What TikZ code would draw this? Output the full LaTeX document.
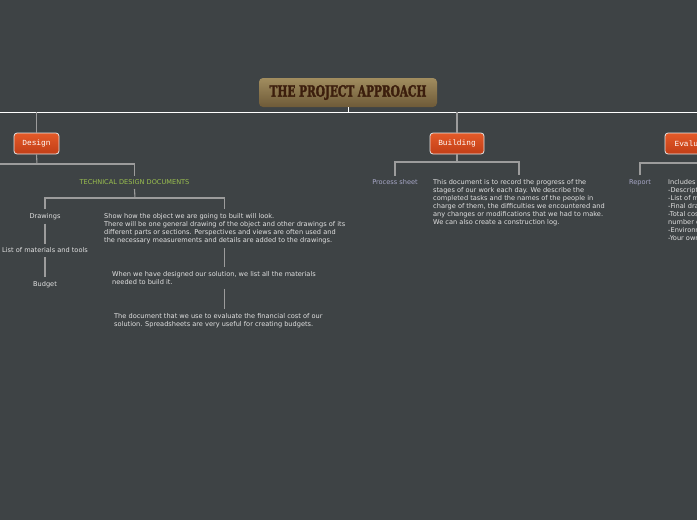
\documentclass[tikz,border=0pt]{standalone}
\usepackage{fontspec}
\setmainfont{DejaVu Sans}
\newfontfamily\monofont{Liberation Mono}
\newfontfamily\titlefont{DejaVu Serif Bold}[FakeStretch=0.68, FakeBold=2]
\definecolor{bg}{HTML}{3E4345}
\definecolor{linec}{HTML}{9C9C9C}
\definecolor{txt}{HTML}{E2E2E2}
\definecolor{green}{HTML}{9BC04F}
\definecolor{lav}{HTML}{A8A8C8}
\definecolor{boxtop}{HTML}{E45A28}
\definecolor{boxbot}{HTML}{C23E17}
\definecolor{boxborder}{HTML}{E6E6E6}
\definecolor{titletop}{HTML}{A18D5F}
\definecolor{titlebot}{HTML}{6E5A38}
\definecolor{titletext}{HTML}{3C1E0D}
\begin{document}
\begin{tikzpicture}[x=1pt,y=-1pt,
  lbl/.style={inner xsep=0pt, inner ysep=4pt, font=\fontsize{6.6}{8}\selectfont, text=txt},
  desc/.style={lbl, align=left, anchor=north west},
  branch/.style={draw=boxborder, line width=0.8pt, rounded corners=3pt,
    top color=boxtop, bottom color=boxbot, text=white,
    font=\monofont\fontsize{7.8}{9}\selectfont,
    minimum height=21pt, inner xsep=0pt},
  titlebox/.style={rounded corners=4pt, top color=titletop, bottom color=titlebot,
    text=titletext, font=\titlefont\fontsize{15.5}{17}\selectfont,
    minimum width=178pt, minimum height=29pt, inner sep=0pt},
  link/.style={draw=linec, line width=1.1pt},
  mainline/.style={draw=white, line width=1pt},
]
\fill[bg] (0,0) rectangle (697,520);
\useasboundingbox (0,0) rectangle (697,520);
\clip (0,0) rectangle (697,520);

\coordinate (mainL) at (0,112);
\coordinate (mainR) at (697,112);
\coordinate (dleft) at (0,164);
\coordinate (dbar) at (37,164);
\coordinate (tbar) at (135,198);
\coordinate (bbar) at (457,162);
\coordinate (ebar) at (698,163);

\node[titlebox] (title) at (348,92.5) {THE PROJECT APPROACH};

\node[branch, minimum width=45pt] (design) at (36.5,143.5) {Design};
\node[branch, minimum width=54pt] (building) at (457,143.5) {Building};
\node[branch, minimum width=66pt] (evaluation) at (698,143.5) {Evaluation};

\node[lbl, text=green] (tdd) at (134.5,182.3) {TECHNICAL DESIGN DOCUMENTS};
\node[lbl] (drawings) at (45,216.3) {Drawings};
\node[lbl] (lists) at (45,250.3) {List of materials and tools};
\node[lbl] (budget) at (45,284.3) {Budget};

\node[desc] (desc1) at (104,209.2) {Show how the object we are going to built will look.\\
There will be one general drawing of the object and other drawings of its\\
different parts or sections. Perspectives and views are often used and\\
the necessary measurements and details are added to the drawings.};
\node[desc] (desc2) at (112,267.2) {When we have designed our solution, we list all the materials\\
needed to build it.};
\node[desc] (desc3) at (114,309.2) {The document that we use to evaluate the financial cost of our\\
solution. Spreadsheets are very useful for creating budgets.};

\node[lbl, text=lav] (ps) at (395,182.3) {Process sheet};
\node[desc] (bdesc) at (433,175.2) {This document is to record the progress of the\\
stages of our work each day. We describe the\\
completed tasks and the names of the people in\\
charge of them, the difficulties we encountered and\\
any changes or modifications that we had to make.\\
We can also create a construction log.};

\node[lbl, text=lav] (report) at (640,182.3) {Report};
\node[desc] (edesc) at (668,175.2) {Includes the following sections:\\
-Description of the problem.\\
-List of materials.\\
-Final drawings.\\
-Total cost of the project and\\
number of hours.\\
-Environmental impact.\\
-Your own opinion.};

% connectors
\draw[mainline] (mainL) -- (mainR);
\draw[mainline] (title.south) -- (title.south |- mainL);
\draw[link] (design.north) -- (design.north |- mainL);
\draw[link] (building.north) -- (building.north |- mainL);
\draw[link] (evaluation.north) -- (evaluation.north |- mainL);

\draw[link] (design.south) -- (dbar);
\draw[link] (dleft) -- (dbar) -| (tdd.north);
\draw[link] (tdd.south) -- (tbar);
\draw[link] (drawings.north) |- (tbar) -| (desc1.north);
\draw[link] (drawings) -- (lists);
\draw[link] (lists) -- (budget);
\draw[link] (desc1.south) -- (desc1.south |- desc2.north);
\draw[link] (desc2.south -| desc1.south) -- (desc1.south |- desc3.north);

\draw[link] (building.south) -- (bbar);
\draw[link] (ps.north) |- (bbar) -| (bdesc.north);

\draw[link] (evaluation.south) -- (ebar);
\draw[link] (report.north) |- (ebar);
\end{tikzpicture}
\end{document}
